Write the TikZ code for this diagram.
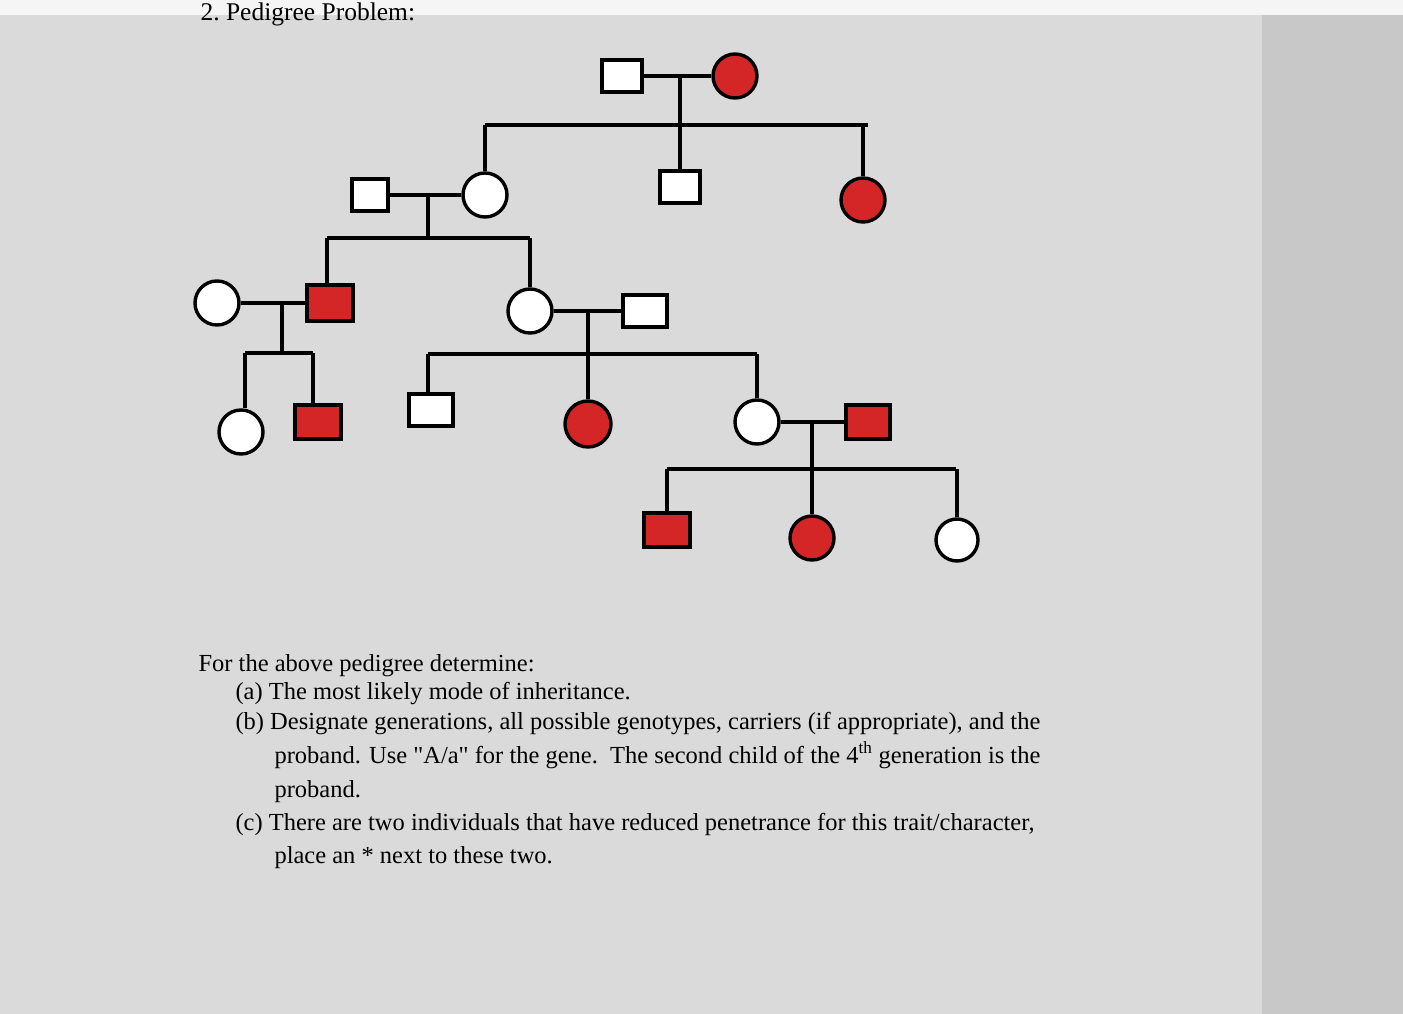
\documentclass[tikz,border=0pt]{standalone}
\usepackage{fontspec}
\setmainfont{Liberation Serif}
\definecolor{aff}{RGB}{212,38,38}
\definecolor{bg}{RGB}{218,218,218}
\definecolor{bg2}{RGB}{200,200,200}
\begin{document}
\begin{tikzpicture}[x=1pt,y=-1pt,
  ln/.style={line width=3.4pt,black},
  ml/.style={draw,line width=3.4pt,minimum width=40pt,minimum height=32pt,inner sep=0pt,fill=white},
  fe/.style={draw,circle,line width=3.4pt,minimum size=44pt,inner sep=0pt,fill=white},
  af/.style={fill=aff},
  txt/.style={anchor=base west,font=\fontsize{24.5}{24.5}\selectfont}]
\useasboundingbox (0,0) rectangle (1403,1014);
\fill[bg] (0,0) rectangle (1403,1014);
\fill[bg2] (1262,15) rectangle (1403,1014);
\fill[gray!8] (0,0) rectangle (1403,15);
% gen I
\node[ml] (i1) at (622,76) {};
\node[fe,af] (i2) at (735,76) {};
% gen II
\node[fe] (ii2) at (485,195) {};
\node[ml] (ii3) at (680,187) {};
\node[fe,af] (ii4) at (863,200) {};
\node[ml,minimum width=36pt] (ii1) at (370,195) {};
% gen III
\node[fe] (iii1) at (217,303) {};
\node[ml,af,minimum width=46pt,minimum height=36pt] (iii2) at (330,303) {};
\node[fe] (iii3) at (530,311) {};
\node[ml,minimum width=44pt] (iii4) at (645,311) {};
% gen IV
\node[fe] (iv1) at (241,432) {};
\node[ml,af,minimum width=46pt,minimum height=34pt] (iv2) at (318,422) {};
\node[ml,minimum width=44pt] (iv3) at (431,410) {};
\node[fe,af,minimum size=46pt] (iv4) at (588,424) {};
\node[fe] (iv5) at (757,422) {};
\node[ml,af,minimum width=44pt,minimum height=34pt] (iv6) at (868,422) {};
% gen V
\node[ml,af,minimum width=46pt,minimum height=34pt] (v1) at (667,530) {};
\node[fe,af] (v2) at (812,538) {};
\node[fe,minimum size=42pt] (v3) at (957,540) {};
% marriages & sibships
\draw[ln] (i1.east) -- (i2.west);
\draw[ln] (680,76) -- (680,125);
\draw[ln] (485,125) -- (868,125);
\draw[ln] (485,125) -- (ii2.north);
\draw[ln] (680,125) -- (ii3.north);
\draw[ln] (863,125) -- (ii4.north);

\draw[ln] (ii1.east) -- (ii2.west);
\draw[ln] (428,195) -- (428,238);
\draw[ln] (327,238) -- (530,238);
\draw[ln] (327,238) -- (iii2.north -| 327,0);
\draw[ln] (530,238) -- (iii3.north);

\draw[ln] (iii1.east) -- (iii2.west);
\draw[ln] (282,303) -- (282,353);
\draw[ln] (245,353) -- (313,353);
\draw[ln] (245,353) -- (iv1.north -| 245,0);
\draw[ln] (313,353) -- (iv2.north -| 313,0);

\draw[ln] (iii3.east) -- (iii4.west);
\draw[ln] (588,311) -- (588,354);
\draw[ln] (428,354) -- (757,354);
\draw[ln] (428,354) -- (iv3.north -| 428,0);
\draw[ln] (588,354) -- (iv4.north);
\draw[ln] (757,354) -- (iv5.north);

\draw[ln] (iv5.east) -- (iv6.west);
\draw[ln] (812,422) -- (812,469);
\draw[ln] (667,469) -- (956,469);
\draw[ln] (667,469) -- (v1.north);
\draw[ln] (812,469) -- (v2.north);
\draw[ln] (957,469) -- (v3.north);
% texts
\node[txt,font=\fontsize{25.5}{25.5}\selectfont] (t0) at (197,21) {2.\ Pedigree Problem:};
\node[txt] (t1) at (195,671) {For the above pedigree determine:};
\node[txt] (t2) at (232,699) {(a) The most likely mode of inheritance.};
\node[txt] (t3) at (232,729) {(b) Designate generations, all possible genotypes, carriers (if appropriate), and the};
\node[txt] (t4) at (271,763) {proband. Use \textquotedbl A/a\textquotedbl{} for the gene.\ \ The second child of the 4\textsuperscript{th} generation is the};
\node[txt] (t5) at (271,797) {proband.};
\node[txt] (t6) at (232,830) {(c) There are two individuals that have reduced penetrance for this trait/character,};
\node[txt] (t7) at (271,863) {place an * next to these two.};
\end{tikzpicture}
\end{document}
